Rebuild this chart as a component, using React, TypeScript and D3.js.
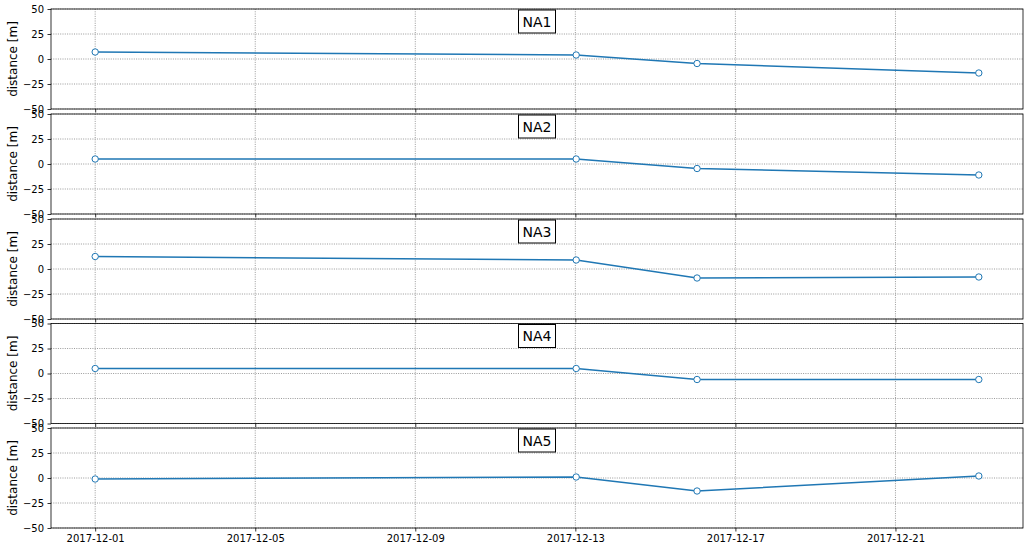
import { useEffect, useRef } from "react";
import * as d3 from "d3";

const dates = [
  "2017-12-01T00:00",
  "2017-12-13T00:30",
  "2017-12-16T01:00",
  "2017-12-23T02:00",
];
const stations = ["NA1", "NA2", "NA3", "NA4", "NA5"];
const na1 = [7, 4, -4.5, -14];
const na2 = [5, 5, -4.5, -11];
const na3 = [12.5, 9, -9, -8];
const na4 = [5, 5, -6, -6];
const na5 = [-1, 1, -13, 2];
const series = [na1, na2, na3, na4, na5];
const yTicks = [-50, -25, 0, 25, 50];
const xTicks = ["2017-12-01", "2017-12-05", "2017-12-09", "2017-12-13", "2017-12-17", "2017-12-21"];

export default function App() {
  const ref = useRef<SVGSVGElement | null>(null);

  useEffect(() => {
    if (!ref.current) return;
    const svg = d3.select(ref.current);
    svg.selectAll("*").remove();

    const width = 1034;
    const left = 51;
    const right = 1023;
    const panelH = 100;
    const tops = [9, 114, 219, 323.5, 428];
    const font = "DejaVu Sans, sans-serif";

    const t = dates.map((d) => new Date(d));
    const [t0, t1] = d3.extent(t) as [Date, Date];
    const pad = (+t1 - +t0) * 0.05;
    const x = d3
      .scaleTime()
      .domain([new Date(+t0 - pad), new Date(+t1 + pad)])
      .range([left, right]);

    series.forEach((vals, i) => {
      const top = tops[i];
      const y = d3.scaleLinear().domain([-50, 50]).range([top + panelH, top]);
      const g = svg.append("g");

      // grid
      g.selectAll(".gy")
        .data(yTicks)
        .join("line")
        .attr("x1", left)
        .attr("x2", right)
        .attr("y1", (d) => y(d))
        .attr("y2", (d) => y(d))
        .attr("stroke", "#808080")
        .attr("stroke-width", 0.8)
        .attr("stroke-dasharray", "1,1.3");
      g.selectAll(".gx")
        .data(xTicks)
        .join("line")
        .attr("x1", (d) => x(new Date(d + "T00:00")))
        .attr("x2", (d) => x(new Date(d + "T00:00")))
        .attr("y1", top)
        .attr("y2", top + panelH)
        .attr("stroke", "#808080")
        .attr("stroke-width", 0.8)
        .attr("stroke-dasharray", "1,1.3");

      // y axis
      const ya = g
        .append("g")
        .attr("transform", `translate(${left},0)`)
        .call(d3.axisLeft(y).tickValues(yTicks).tickSize(3.5).tickPadding(3.5).tickFormat((d) => String(d).replace("-", "\u2212")));
      ya.select(".domain").remove();
      ya.selectAll("line").attr("stroke", "#000").attr("stroke-width", 0.8);
      ya.selectAll("text").attr("font-family", font).attr("font-size", 10).attr("fill", "#000");

      // x axis
      const xa = g
        .append("g")
        .attr("transform", `translate(0,${top + panelH})`)
        .call(
          d3
            .axisBottom(x)
            .tickValues(xTicks.map((d) => new Date(d + "T00:00")))
            .tickSize(3.5)
            .tickPadding(3.5)
            .tickFormat((d) => (i === series.length - 1 ? d3.timeFormat("%Y-%m-%d")(d as Date) : ""))
        );
      xa.select(".domain").remove();
      xa.selectAll("line").attr("stroke", "#000").attr("stroke-width", 0.8);
      xa.selectAll("text").attr("font-family", font).attr("font-size", 10).attr("fill", "#000");

      // frame
      g.append("rect")
        .attr("x", left)
        .attr("y", top)
        .attr("width", right - left)
        .attr("height", panelH)
        .attr("fill", "none")
        .attr("stroke", "#000")
        .attr("stroke-width", 0.8);

      // y label
      g.append("text")
        .attr("transform", `translate(17,${top + panelH / 2}) rotate(-90)`)
        .attr("text-anchor", "middle")
        .attr("font-family", font)
        .attr("font-size", 12)
        .text("distance [m]");

      // line
      const pts = vals.map((v, j) => [x(t[j]), y(v)] as [number, number]);
      g.append("path")
        .attr("d", d3.line()(pts))
        .attr("fill", "none")
        .attr("stroke", "#1f77b4")
        .attr("stroke-width", 1.5);
      g.selectAll(".pt")
        .data(pts)
        .join("circle")
        .attr("cx", (d) => d[0])
        .attr("cy", (d) => d[1])
        .attr("r", 3.2)
        .attr("fill", "#fff")
        .attr("stroke", "#1f77b4")
        .attr("stroke-width", 1);

      // title box
      const cx = (left + right) / 2;
      g.append("rect")
        .attr("x", cx - 18.5)
        .attr("y", top + 1)
        .attr("width", 37)
        .attr("height", 23)
        .attr("fill", "#fff")
        .attr("stroke", "#000")
        .attr("stroke-width", 1);
      g.append("text")
        .attr("x", cx)
        .attr("y", top + 17.5)
        .attr("text-anchor", "middle")
        .attr("font-family", font)
        .attr("font-size", 14)
        .text(stations[i]);
    });
  }, []);

  return (
    <svg
      ref={ref}
      width={1034}
      height={556}
      style={{ position: "absolute", left: 0, top: 0, background: "#fff" }}
    />
  );
}
